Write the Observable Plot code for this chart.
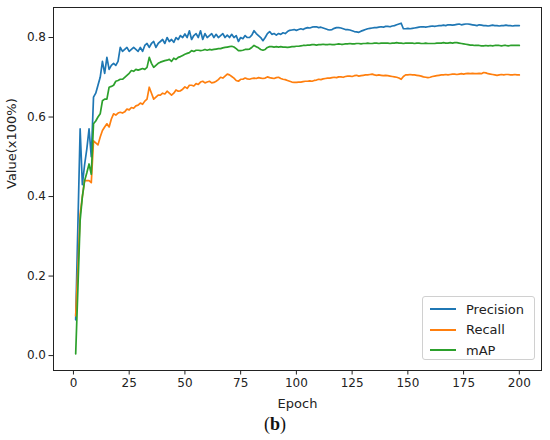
<!DOCTYPE html>
<html><head><meta charset="utf-8">
<script src="https://cdn.jsdelivr.net/npm/d3@7"></script>
<script src="https://cdn.jsdelivr.net/npm/@observablehq/plot@0.6"></script>
<style>
body{margin:0;background:#fff;font-family:"DejaVu Sans",sans-serif;}
#wrap{position:relative;width:550px;height:440px;}
#legend{position:absolute;left:422px;top:296px;width:113px;height:64px;border:1px solid #d0d0d0;border-radius:3px;background:rgba(255,255,255,0.85);font-size:13px;color:#222;box-sizing:border-box;}
#legend .row{position:absolute;left:7px;height:20px;display:flex;align-items:center;}
#legend .sw{width:26px;height:2px;margin-right:10px;}
#caption{position:absolute;left:0;width:550px;top:414px;text-align:center;font-family:"Liberation Serif","Times New Roman",serif;font-size:18px;color:#111;}
</style>
</head><body>
<div id="wrap"><div id="chart"></div><div id="legend"></div><div id="caption">(<b>b</b>)</div></div>
<script>
const seriesNames = ["Precision", "Recall", "mAP"];
const seriesColors = ["#1f77b4", "#ff7f0e", "#2ca02c"];
const xTicks = [0, 25, 50, 75, 100, 125, 150, 175, 200];
const yTicks = [0, 0.2, 0.4, 0.6, 0.8];

const precision = [
0.09,0.33,0.57,0.43,0.48,0.52,0.57,0.50,0.65,0.66,
0.68,0.70,0.74,0.71,0.75,0.72,0.73,0.735,0.73,0.74,
0.775,0.765,0.77,0.775,0.765,0.77,0.775,0.77,0.765,0.775,
0.765,0.78,0.785,0.775,0.785,0.79,0.775,0.785,0.79,0.795,
0.785,0.80,0.79,0.795,0.788,0.80,0.795,0.805,0.80,0.809,
0.80,0.817,0.795,0.805,0.81,0.80,0.817,0.795,0.81,0.80,
0.805,0.81,0.80,0.808,0.80,0.805,0.81,0.80,0.806,0.80,
0.808,0.80,0.805,0.79,0.80,0.797,0.805,0.80,0.80,0.806,
0.817,0.81,0.805,0.80,0.792,0.80,0.81,0.815,0.808,0.81,
0.806,0.81,0.808,0.812,0.81,0.815,0.818,0.819,0.82,0.818,
0.82,0.822,0.82,0.823,0.825,0.824,0.826,0.827,0.827,0.825,
0.826,0.824,0.822,0.82,0.819,0.82,0.823,0.825,0.825,0.824,
0.822,0.82,0.82,0.819,0.817,0.815,0.814,0.813,0.816,0.818,
0.82,0.822,0.823,0.824,0.825,0.825,0.826,0.827,0.826,0.828,
0.828,0.827,0.829,0.83,0.832,0.834,0.836,0.822,0.822,0.823,
0.822,0.823,0.824,0.825,0.826,0.827,0.827,0.826,0.827,0.828,
0.829,0.828,0.829,0.83,0.83,0.831,0.83,0.832,0.832,0.831,
0.832,0.833,0.834,0.832,0.833,0.834,0.834,0.833,0.832,0.831,
0.83,0.832,0.831,0.83,0.83,0.829,0.83,0.831,0.83,0.83,
0.829,0.83,0.83,0.831,0.83,0.83,0.829,0.83,0.83,0.83];

const recall = [
0.10,0.22,0.356,0.40,0.44,0.44,0.44,0.435,0.54,0.535,
0.53,0.55,0.566,0.575,0.583,0.575,0.595,0.608,0.605,0.61,
0.612,0.61,0.613,0.62,0.618,0.624,0.622,0.628,0.63,0.635,
0.632,0.64,0.645,0.675,0.66,0.645,0.65,0.655,0.655,0.66,
0.658,0.665,0.66,0.655,0.66,0.668,0.665,0.666,0.67,0.676,
0.672,0.68,0.68,0.678,0.684,0.682,0.688,0.69,0.686,0.688,
0.69,0.686,0.687,0.69,0.694,0.70,0.698,0.703,0.708,0.706,
0.702,0.698,0.692,0.69,0.695,0.695,0.698,0.696,0.695,0.697,
0.698,0.697,0.699,0.698,0.697,0.698,0.701,0.699,0.698,0.697,
0.699,0.70,0.697,0.695,0.694,0.692,0.69,0.688,0.687,0.687,
0.688,0.688,0.689,0.69,0.69,0.691,0.69,0.692,0.693,0.695,
0.694,0.696,0.697,0.698,0.698,0.699,0.70,0.699,0.701,0.701,
0.70,0.702,0.703,0.703,0.702,0.704,0.705,0.703,0.704,0.705,
0.706,0.706,0.707,0.708,0.706,0.705,0.706,0.705,0.704,0.705,
0.704,0.703,0.702,0.701,0.70,0.698,0.695,0.702,0.706,0.706,
0.707,0.706,0.706,0.705,0.704,0.703,0.701,0.70,0.699,0.70,
0.702,0.703,0.704,0.705,0.706,0.706,0.707,0.706,0.707,0.708,
0.708,0.707,0.708,0.709,0.708,0.709,0.71,0.709,0.71,0.709,
0.709,0.71,0.709,0.712,0.711,0.709,0.708,0.707,0.706,0.705,
0.706,0.707,0.706,0.707,0.707,0.706,0.706,0.707,0.706,0.706];

const mAP = [
0.004,0.17,0.34,0.40,0.44,0.46,0.482,0.456,0.583,0.59,
0.60,0.608,0.641,0.645,0.645,0.675,0.677,0.68,0.69,0.692,
0.695,0.695,0.70,0.705,0.71,0.717,0.715,0.72,0.718,0.72,
0.722,0.72,0.725,0.75,0.735,0.725,0.73,0.735,0.738,0.74,
0.742,0.743,0.745,0.74,0.748,0.745,0.75,0.752,0.755,0.758,
0.76,0.762,0.767,0.765,0.768,0.768,0.767,0.768,0.77,0.768,
0.77,0.769,0.77,0.771,0.772,0.772,0.774,0.775,0.776,0.777,
0.778,0.776,0.772,0.767,0.767,0.768,0.77,0.77,0.771,0.775,
0.78,0.777,0.774,0.77,0.768,0.77,0.775,0.777,0.777,0.776,
0.777,0.776,0.777,0.776,0.776,0.775,0.776,0.777,0.777,0.778,
0.778,0.779,0.78,0.78,0.781,0.781,0.782,0.782,0.781,0.782,
0.782,0.783,0.782,0.782,0.783,0.782,0.782,0.783,0.784,0.783,
0.783,0.784,0.784,0.785,0.784,0.784,0.785,0.785,0.784,0.785,
0.785,0.786,0.785,0.785,0.786,0.786,0.785,0.786,0.786,0.786,
0.786,0.785,0.786,0.786,0.787,0.786,0.786,0.785,0.786,0.786,
0.786,0.786,0.785,0.786,0.786,0.785,0.785,0.786,0.785,0.785,
0.785,0.785,0.786,0.786,0.786,0.787,0.786,0.786,0.787,0.786,
0.787,0.787,0.786,0.785,0.784,0.783,0.782,0.781,0.781,0.78,
0.78,0.78,0.779,0.779,0.78,0.779,0.78,0.779,0.78,0.78,
0.78,0.779,0.78,0.78,0.779,0.78,0.78,0.78,0.78,0.78];

const seriesValues = [precision, recall, mAP];
const rows = [];
seriesNames.forEach((name, k) => {
  seriesValues[k].forEach((v, i) => rows.push({epoch: i + 1, value: v, series: name}));
});

const chart = Plot.plot({
  width: 550, height: 412,
  marginLeft: 53, marginRight: 9, marginTop: 7, marginBottom: 42,
  style: {fontFamily: "DejaVu Sans, sans-serif", fontSize: "12px", color: "#222", background: "#fff"},
  x: {domain: [-8.95, 209.95]},
  y: {domain: [-0.0375, 0.8755]},
  color: {domain: seriesNames, range: seriesColors},
  marks: [
    Plot.line(rows, {x: "epoch", y: "value", stroke: "series", z: "series", strokeWidth: 1.7}),
    Plot.frame({stroke: "#222", strokeWidth: 1}),
    Plot.axisX({ticks: xTicks, tickSize: 4.5, tickPadding: 3, fontSize: 12, label: null, stroke: "#222"}),
    Plot.axisY({ticks: yTicks, tickSize: 4.5, tickPadding: 3, fontSize: 12, tickFormat: d3.format(".1f"), label: null, stroke: "#222"}),
    Plot.text(["Epoch"], {frameAnchor: "bottom", dy: 37, fontSize: 13, fill: "#222"}),
    Plot.text(["Value(x100%)"], {frameAnchor: "left", dx: -42, rotate: -90, fontSize: 13, fill: "#222"})
  ]
});
document.getElementById("chart").appendChild(chart);

const legend = document.getElementById("legend");
seriesNames.forEach((name, k) => {
  const row = document.createElement("div");
  row.className = "row";
  row.style.top = (2 + k * 20.5) + "px";
  row.innerHTML = `<span class="sw" style="background:${seriesColors[k]}"></span><span>${name}</span>`;
  legend.appendChild(row);
});
</script>
</body></html>
